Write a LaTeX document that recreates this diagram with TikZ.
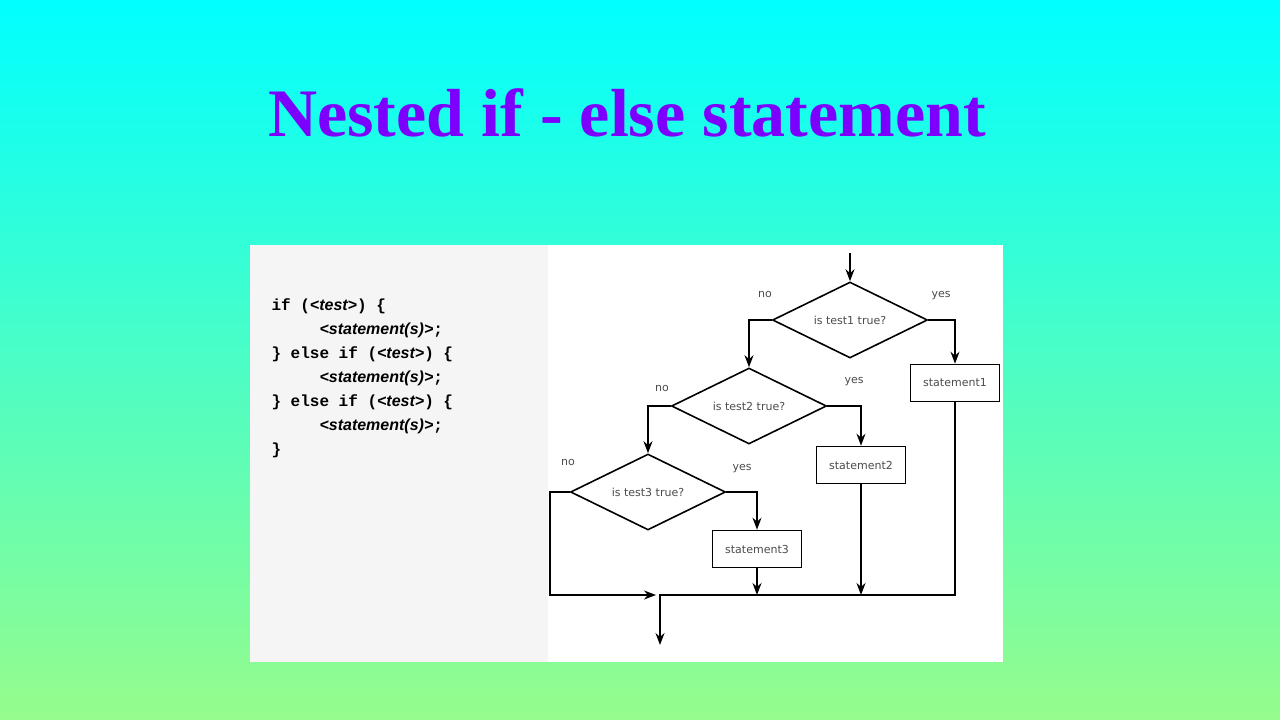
\documentclass[tikz,border=0pt]{standalone}
\usepackage{fontspec}
\setmainfont{Liberation Serif}
\newfontfamily\codefont{Liberation Mono}
\newfontfamily\argfont{Liberation Sans}
\newfontfamily\flowfont{DejaVu Sans}
\usetikzlibrary{shapes.geometric,arrows.meta}
\newcommand{\codearg}[1]{{\argfont\bfseries\itshape #1}}

\begin{document}
\begin{tikzpicture}[x=1pt,y=-1pt,
    decision/.style={draw, line width=1.6pt, diamond, aspect=2.05, minimum width=155pt, minimum height=76pt, inner sep=0pt, font=\flowfont\fontsize{11}{12}\selectfont, text=black!70},
    stmt/.style={draw, line width=1.6pt, minimum width=89pt, minimum height=37pt, font=\flowfont\fontsize{11}{12}\selectfont, text=black!70},
    flow/.style={line width=1.6pt, -{Stealth[length=12pt,width=9pt]}},
    branch/.style={font=\flowfont\fontsize{11}{12}\selectfont, text=black!70},
    codeline/.style={anchor=west, font=\codefont\bfseries\fontsize{16}{18}\selectfont}]
    \shade[top color={rgb,255:red,0;green,255;blue,255}, bottom color={rgb,255:red,150;green,252;blue,140}] (0,0) rectangle (1280,720); % background
    \useasboundingbox (0,0) rectangle (1280,720);
    \node[font=\fontsize{68}{72}\selectfont\bfseries, text={rgb,255:red,125;green,0;blue,255}] (title) at (627,113) {Nested if - else statement};
    \fill[white] (250,245) rectangle (1003,662); % panel
    \fill[black!4] (250,245) rectangle (548,662); % code side
    % code
    \node[codeline] (c1) at (268,306) {if (\codearg{<test>}) \{};
    \node[codeline] (c2) at (268,330) {\phantom{if\ }\ \ \codearg{<statement(s)>};};
    \node[codeline] (c3) at (268,354) {\} else if (\codearg{<test>}) \{};
    \node[codeline] (c4) at (268,378) {\phantom{if\ }\ \ \codearg{<statement(s)>};};
    \node[codeline] (c5) at (268,402) {\} else if (\codearg{<test>}) \{};
    \node[codeline] (c6) at (268,426) {\phantom{if\ }\ \ \codearg{<statement(s)>};};
    \node[codeline] (c7) at (268,450) {\}};
    % flowchart
    \node[decision] (test1) at (850,320) {is test1 true?};
    \node[decision] (test2) at (749,406) {is test2 true?};
    \node[decision] (test3) at (648,492) {is test3 true?};
    \node[stmt] (st1) at (955,383) {statement1};
    \node[stmt] (st2) at (861,465) {statement2};
    \node[stmt] (st3) at (757,549) {statement3};
    \coordinate (start) at (850,253);
    \coordinate (join) at (660,595);
    \coordinate (finish) at (660,645);
    \node[branch] (no1) at (765,294) {no};
    \node[branch] (yes1) at (941,296) {yes};
    \node[branch] (no2) at (662,388) {no};
    \node[branch] (yes2) at (854,382) {yes};
    \node[branch] (no3) at (568,462) {no};
    \node[branch] (yes3) at (742,469) {yes};
    \draw[flow] (start) -- (test1.north);
    \draw[flow] (test1.west) -| (test2.north);
    \draw[flow] (test1.east) -| (st1.north);
    \draw[flow] (test2.west) -| (test3.north);
    \draw[flow] (test2.east) -| (st2.north);
    \draw[flow] (test3.east) -| (st3.north);
    \draw[flow] (st3.south) -- (st3.south |- join);
    \draw[flow] (st2.south) -- (st2.south |- join);
    \draw[flow] (test3.west) -- ++(-20,0) |- ([xshift=-4pt]join);
    \draw[flow] (st1.south) |- (join) -- (finish);
\end{tikzpicture}
\end{document}
